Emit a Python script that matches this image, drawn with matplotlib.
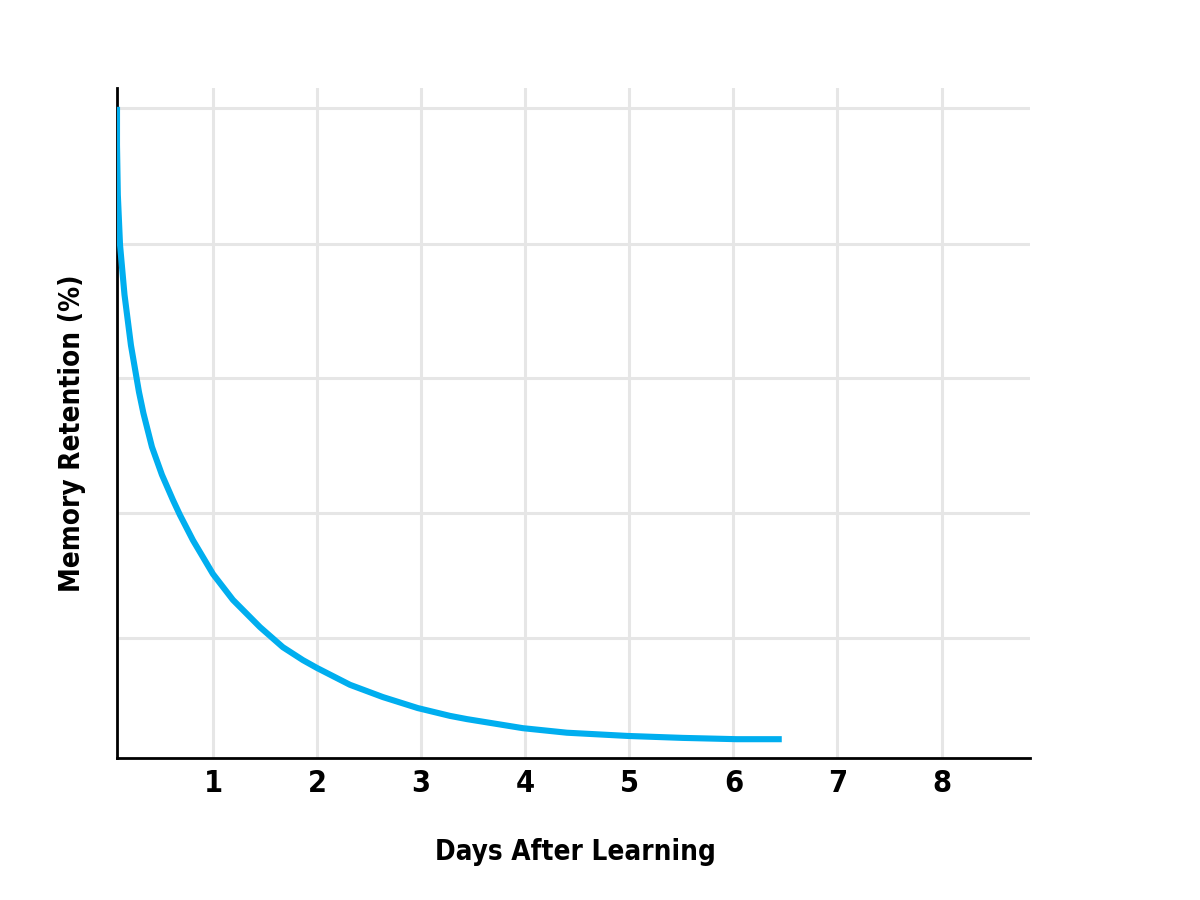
#!/usr/bin/env python3
"""Forgetting curve: memory retention vs days after learning."""

import matplotlib
matplotlib.use("Agg")
import matplotlib.pyplot as plt

# ──────────────────────────────────────────────────────────────────────────
# Data
# ──────────────────────────────────────────────────────────────────────────
days = [0.077, 0.077, 0.085, 0.106, 0.149, 0.211, 0.288, 0.331, 0.413,
        0.509, 0.615, 0.682, 0.807, 0.999, 1.191, 1.451, 1.671, 1.864,
        1.998, 2.315, 2.632, 2.968, 3.276, 3.439, 3.977, 4.400, 4.986,
        5.514, 6.033, 6.465]
retention = [100.5, 94.6, 86.9, 79.2, 71.5, 63.7, 56.5, 53.2, 48.0,
             43.7, 39.8, 37.5, 33.6, 28.4, 24.4, 20.2, 17.1, 15.1,
             13.9, 11.3, 9.4, 7.7, 6.5, 6.0, 4.6, 3.9, 3.4,
             3.1, 2.9, 2.9]

x_ticks = [1, 2, 3, 4, 5, 6, 7, 8]
x_tick_labels = ["1", "2", "3", "4", "5", "6", "7", "8"]
y_grid = [18.5, 37.8, 58.6, 79.3, 100.3]

plt.rcParams["font.family"] = ["DejaVu Sans"]
plt.rcParams["font.stretch"] = "condensed"

# ──────────────────────────────────────────────────────────────────────────
# Plot
# ──────────────────────────────────────────────────────────────────────────
fig = plt.figure(figsize=(12, 9), dpi=100)
ax = fig.add_axes([0.0975, 0.1578, 0.7608, 0.7444])

ax.plot(days, retention, color="#00AEEF", linewidth=4.4,
        solid_capstyle="butt", solid_joinstyle="round", zorder=3)

ax.set_xlim(0.077, 8.85)
ax.set_ylim(0, 103.4)

ax.set_xticks(x_ticks)
ax.set_xticklabels(x_tick_labels)
ax.set_yticks(y_grid)
ax.set_yticklabels([])
ax.tick_params(length=0, pad=8)
for lbl in ax.get_xticklabels():
    lbl.set_fontsize(22)
    lbl.set_fontweight("bold")
    lbl.set_fontstretch("condensed")

ax.grid(True, color="#e6e6e6", linewidth=2.2, zorder=0)
ax.set_axisbelow(True)

for side in ("top", "right"):
    ax.spines[side].set_visible(False)
for side in ("left", "bottom"):
    ax.spines[side].set_color("black")
    ax.spines[side].set_linewidth(2.0)

ax.set_xlabel("Days After Learning", fontsize=20, fontweight="bold",
              fontstretch="condensed")
ax.xaxis.set_label_coords(0.502, -0.12)
ax.set_ylabel("Memory Retention (%)", fontsize=20, fontweight="bold",
              fontstretch="condensed")
ax.yaxis.set_label_coords(-0.034, 0.485)

fig.savefig("out.png", dpi=100, facecolor="white")
